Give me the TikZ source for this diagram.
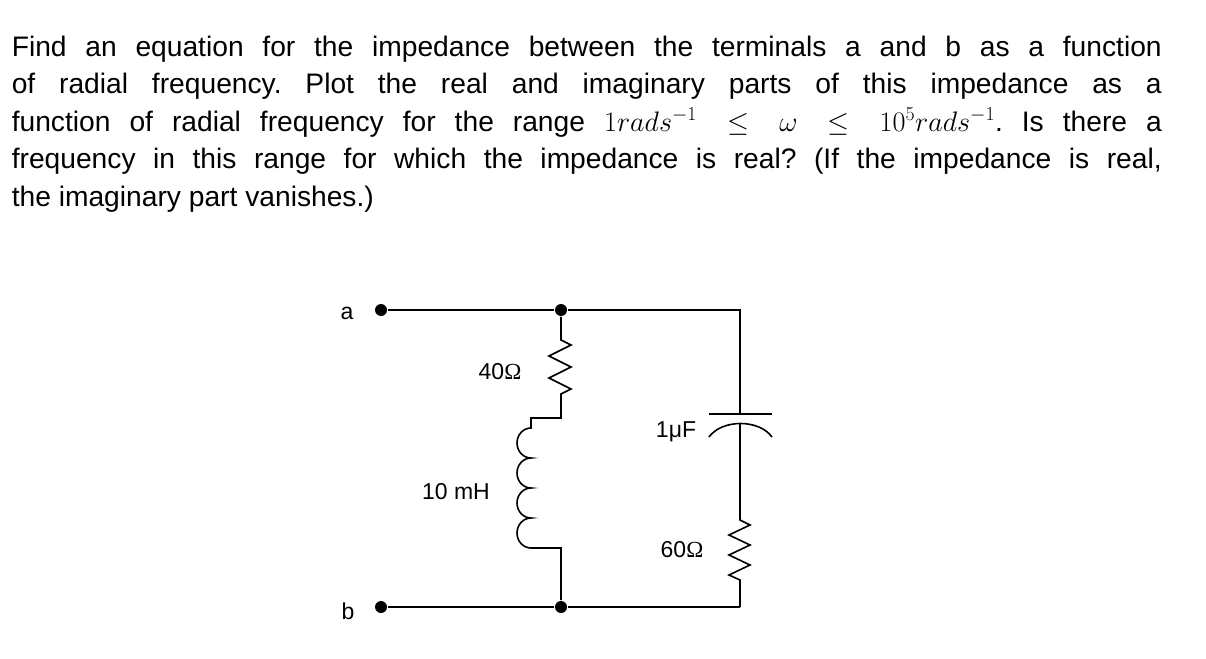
\RequirePackage{fix-cm}
\documentclass[tikz,border=0pt]{standalone}
\usepackage{fontspec}
\setmainfont{Liberation Sans}
\newfontfamily\omfont{Liberation Serif}
\frenchspacing
\begin{document}
\begin{tikzpicture}[x=1pt,y=-1pt,line width=1.6pt,
  dot/.style={circle,fill=black,inner sep=0pt,minimum size=12pt},
  lbl/.style={font=\fontsize{23}{26}\selectfont,inner sep=0pt}]
\useasboundingbox (0,0) rectangle (1206,658);
\node[anchor=north west,inner sep=0pt,text width=1150pt,align=justify,
  font=\fontsize{28.2}{37.5}\selectfont] (q) at (11,35)
 {Find an equation for the impedance between the terminals a and b as a function\linebreak
 of radial frequency. Plot the real and imaginary parts of this impedance as a\linebreak
 function of radial frequency for the range $1rads^{-1}\leq\omega\leq10^5rads^{-1}$. Is there a\linebreak
 frequency in this range for which the impedance is real? (If the impedance is real,\linebreak
 the imaginary part vanishes.)\par};
\node[dot] (a) at (381,310) {};
\node[dot] (b) at (381,607) {};
\node[dot] (t) at (561,310) {};
\node[dot] (d) at (561,607) {};
\coordinate (tr) at (740,310);
\coordinate (br) at (740,607);
\node[lbl] (la) at (347,313) {a};
\node[lbl] (lb) at (348,611) {b};
\node[lbl] (l40) at (500,372) {40{\omfont Ω}};
\node[lbl] (lL) at (456,492) {10 mH};
\node[lbl] (lC) at (676,432) {1μF};
\node[lbl] (l60) at (682,550) {60{\omfont Ω}};
\draw (a) -- (t) -- (tr) -- (740,414);
\draw (br) -- (d) -- (b);
% 40 ohm + inductor branch
\draw (t) -- (561,340) -- (571,345) -- (549,356) -- (571,367) -- (549,378) -- (571,389) -- (561,394) -- (561,418) -- (531,418) -- (531,428)
  arc[start angle=-90,end angle=-270,x radius=14,y radius=15]
  arc[start angle=-90,end angle=-270,x radius=14,y radius=15]
  arc[start angle=-90,end angle=-270,x radius=14,y radius=15]
  arc[start angle=-90,end angle=-270,x radius=14,y radius=15]
  -- (531,548) -- (561,548) -- (d);
% capacitor + 60 ohm branch
\draw (709,414) -- (772,414);
\draw (709,437) .. controls (722,419) and (759,419) .. (772,437);
\draw (740,424) -- (740,520) -- (750,525) -- (729,535) -- (750,545) -- (729,555) -- (750,565) -- (729,575) -- (740,580) -- (br);
\end{tikzpicture}
\end{document}
